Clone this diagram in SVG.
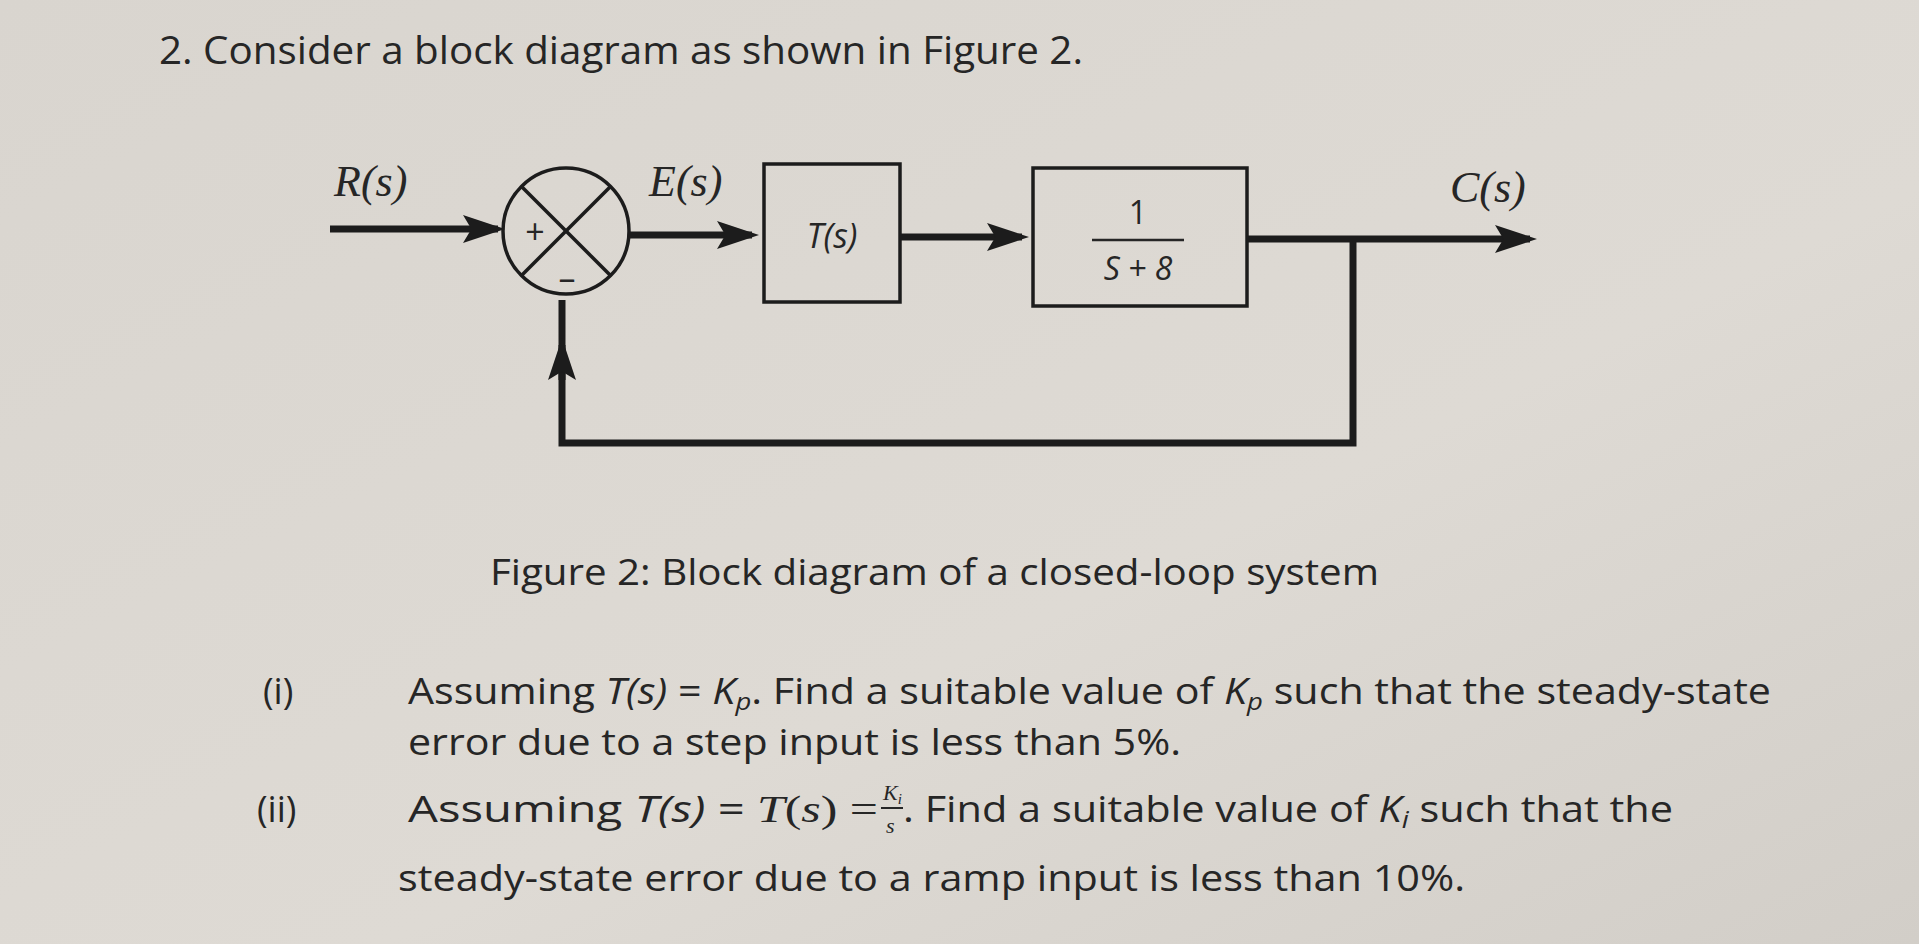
<svg xmlns="http://www.w3.org/2000/svg" width="1919" height="944" viewBox="0 0 1919 944">
<defs>
<linearGradient id="bg" x1="0" y1="0" x2="1" y2="1"><stop offset="0" stop-color="#d9d5cf"/><stop offset="0.6" stop-color="#dedad4"/><stop offset="1" stop-color="#d2cec8"/></linearGradient>
<marker id="ah" markerWidth="6" markerHeight="4" refX="5" refY="2" orient="auto" markerUnits="strokeWidth"><path d="M0,0 L6,2 L0,4 L1.2,2 z" fill="#1c1c1c"/></marker>
</defs>
<style>
.t{font-family:"Open Sans","Liberation Sans",sans-serif;fill:#262626}
.m{font-family:"Liberation Serif",serif;fill:#262626;font-style:italic}
.w{stroke:#1c1c1c;stroke-width:7;fill:none}
.b{stroke:#1c1c1c;stroke-width:3.5;fill:none}
</style>
<rect width="1919" height="944" fill="url(#bg)"/>
<text class="t" x="159" y="64" font-size="38" textLength="924" lengthAdjust="spacingAndGlyphs">2.  Consider a block diagram as shown in Figure 2.</text>
<g id="sum"><circle class="b" cx="566" cy="231" r="63"/><line class="b" x1="522" y1="187" x2="610" y2="275" stroke-width="2.5"/><line class="b" x1="610" y1="187" x2="522" y2="275" stroke-width="2.5"/><text class="t" x="535" y="244" font-size="34" text-anchor="middle">+</text><text class="t" x="567" y="290" font-size="34" text-anchor="middle">–</text></g>
<g id="T"><rect class="b" x="764" y="164" width="136" height="138"/><text class="t" x="832" y="248" font-size="34" font-style="italic" text-anchor="middle">T(s)</text></g>
<g id="G"><rect class="b" x="1033" y="168" width="214" height="138"/><text class="t" x="1138" y="224" font-size="32" text-anchor="middle">1</text><line x1="1092" y1="240" x2="1184" y2="240" stroke="#262626" stroke-width="2.5"/><text class="t" x="1138" y="280" font-size="32" text-anchor="middle" font-style="italic">S + 8</text></g>
<g id="labels"><text class="m" x="334" y="196" font-size="44">R(s)</text><text class="m" x="649" y="196" font-size="44">E(s)</text><text class="m" x="1450" y="202" font-size="44">C(s)</text></g>
<g id="connectors">
<line class="w" x1="330" y1="229" x2="498" y2="229" marker-end="url(#ah)"/>
<line class="w" x1="629" y1="235" x2="752" y2="235" marker-end="url(#ah)"/>
<line class="w" x1="900" y1="237" x2="1022" y2="237" marker-end="url(#ah)"/>
<line class="w" x1="1247" y1="239" x2="1530" y2="239" marker-end="url(#ah)"/>
<polyline class="w" points="1353,239 1353,443 562,443 562,300"/>
<line class="w" x1="562" y1="380" x2="562" y2="345" marker-end="url(#ah)"/>
</g>
<text class="t" x="490" y="585" font-size="36" textLength="889" lengthAdjust="spacingAndGlyphs">Figure 2: Block diagram of a closed-loop system</text>
<text class="t" x="263" y="704" font-size="36">(i)</text>
<text class="t" x="408" y="704" font-size="36" textLength="1363" lengthAdjust="spacingAndGlyphs">Assuming <tspan font-style="italic">T(s)</tspan> = <tspan font-style="italic">K<tspan font-size="24" dy="6">p</tspan></tspan><tspan dy="-6">. Find a suitable value of </tspan><tspan font-style="italic">K<tspan font-size="24" dy="6">p</tspan></tspan><tspan dy="-6"> such that the steady-state</tspan></text>
<text class="t" x="408" y="755" font-size="36" textLength="773" lengthAdjust="spacingAndGlyphs">error due to a step input is less than 5%.</text>
<text class="t" x="257" y="822" font-size="36">(ii)</text>
<text class="t" x="408" y="822" font-size="36" textLength="470" lengthAdjust="spacingAndGlyphs">Assuming <tspan font-style="italic">T(s)</tspan> = <tspan class="m" font-size="38">T</tspan><tspan font-family="Liberation Serif" font-size="38">(</tspan><tspan class="m" font-size="38">s</tspan><tspan font-family="Liberation Serif" font-size="38">) =</tspan></text>
<text class="m" x="883" y="800" font-size="22">K<tspan font-size="15" dy="4">i</tspan></text>
<line x1="881" y1="808" x2="903" y2="808" stroke="#262626" stroke-width="2"/>
<text class="m" x="886" y="833" font-size="22">s</text>
<text class="t" x="903" y="822" font-size="36" textLength="770" lengthAdjust="spacingAndGlyphs">. Find a suitable value of <tspan font-style="italic">K<tspan font-size="24" dy="6">i</tspan></tspan><tspan dy="-6"> such that the</tspan></text>
<text class="t" x="398" y="891" font-size="36" textLength="1067" lengthAdjust="spacingAndGlyphs">steady-state error due to a ramp input is less than 10%.</text>
</svg>
